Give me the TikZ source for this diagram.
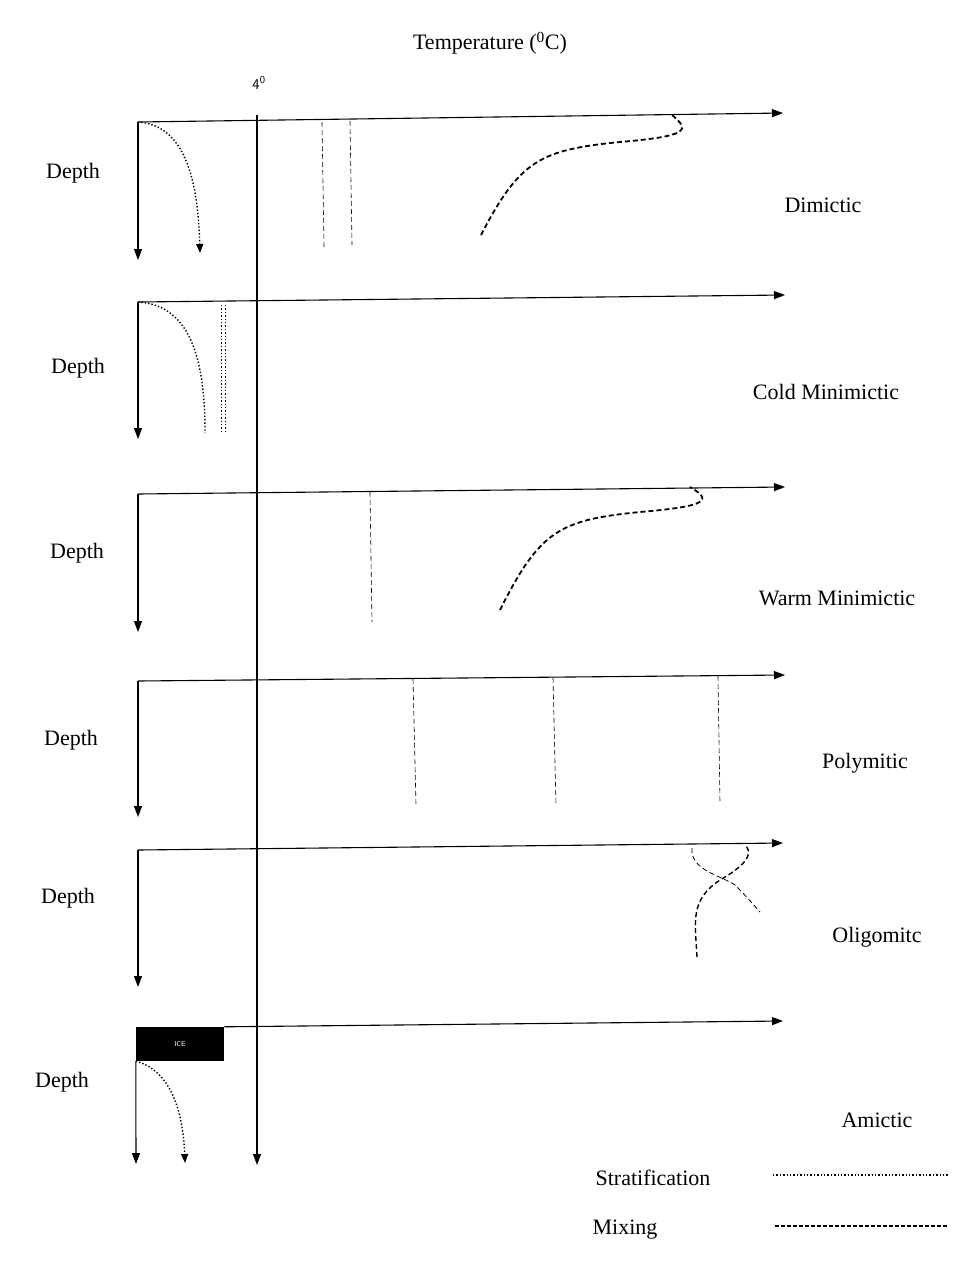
\documentclass[tikz,border=0pt]{standalone}
\usepackage{fontspec}
\setmainfont{Liberation Serif}
\usetikzlibrary{arrows.meta}
\begin{document}
\begin{tikzpicture}[x=1pt,y=-1pt,
  ax/.style={line width=1.1pt,-{Triangle[length=11pt,width=8pt]}},
  strat/.style={line width=1.4pt,dotted},
  mix/.style={line width=1.8pt,dash pattern=on 5pt off 3pt},
  thin/.style={line width=0.6pt,dash pattern=on 5pt off 3pt},
  lab/.style={font=\fontsize{22}{25}\selectfont},
  tip/.style={-{Triangle[length=9pt,width=7pt]}}]
\useasboundingbox (0,0) rectangle (968,1278);
\node[lab] (title) at (490,43) {Temperature (\textsuperscript{0}C)};
\node[font=\sffamily\fontsize{15}{17}\selectfont] (four) at (259,83) {4\textsuperscript{0}};
\coordinate (f1) at (257,115); \coordinate (f2) at (257,1165);
\draw[ax] (f1) -- (f2);
% panel 1
\coordinate (o1) at (138,122);
\coordinate (x1) at (783,113); \coordinate (d1) at (138,260);
\draw[ax] (o1) -- (x1); \draw[ax] (o1) -- (d1);
\draw[strat,tip] (o1) .. controls (185,125) and (198,180) .. (200,253);
\draw[thin] (322,122) -- (324,247); \draw[thin] (350,121) -- (352,245);
\draw[mix] (481,235) .. controls (520,160) and (540,150) .. (620,142) .. controls (690,136) and (690,130) .. (672,115);
\node[lab] (dep1) at (73,173) {Depth};
\node[lab] (n1) at (823,205) {Dimictic};
% panel 2
\coordinate (o2) at (138,302);
\coordinate (x2) at (785,295); \coordinate (d2) at (138,439);
\draw[ax] (o2) -- (x2); \draw[ax] (o2) -- (d2);
\draw[strat] (o2) .. controls (195,305) and (205,370) .. (205,433);
\draw[strat,line width=1pt] (221,305) -- (221,433); \draw[strat,line width=1pt] (225,305) -- (225,433);
\node[lab] (dep2) at (78,368) {Depth};
\node[lab] (n2) at (826,392) {Cold Minimictic};
% panel 3
\coordinate (o3) at (138,494);
\coordinate (x3) at (785,487); \coordinate (d3) at (138,632);
\draw[ax] (o3) -- (x3); \draw[ax] (o3) -- (d3);
\draw[thin] (370,492) -- (372,622);
\draw[mix] (500,610) .. controls (540,530) and (560,520) .. (640,512) .. controls (710,506) and (712,500) .. (690,487);
\node[lab] (dep3) at (77,553) {Depth};
\node[lab] (n3) at (837,598) {Warm Minimictic};
% panel 4
\coordinate (o4) at (138,681);
\coordinate (x4) at (785,675); \coordinate (d4) at (138,817);
\draw[ax] (o4) -- (x4); \draw[ax] (o4) -- (d4);
\draw[thin] (413,679) -- (416,805); \draw[thin] (553,678) -- (556,805); \draw[thin] (718,676) -- (720,803);
\node[lab] (dep4) at (71,740) {Depth};
\node[lab] (n4) at (865,763) {Polymitic};
% panel 5
\coordinate (o5) at (138,850);
\coordinate (x5) at (783,843); \coordinate (d5) at (138,987);
\draw[ax] (o5) -- (x5); \draw[ax] (o5) -- (d5);
\draw[mix,line width=1.4pt] (697,957) .. controls (695,920) and (690,900) .. (720,880) .. controls (755,860) and (750,850) .. (745,845);
\draw[thin,line width=0.8pt] (692,848) .. controls (690,870) and (720,875) .. (735,885) .. controls (750,900) and (758,910) .. (760,912);
\node[lab] (dep5) at (68,898) {Depth};
\node[lab] (n5) at (877,937) {Oligomitc};
% panel 6
\node[fill=black,minimum width=88pt,minimum height=34pt,inner sep=0pt,text=white,font=\sffamily\fontsize{7}{8}\selectfont] (ice) at (180,1044) {ICE};
\coordinate (x6) at (783,1021); \coordinate (d6) at (136,1164);
\draw[ax] (ice.north east) -- (x6); \draw[ax] (ice.south west) -- (d6);
\draw[strat,tip] (ice.south west) .. controls (170,1070) and (183,1110) .. (185,1163);
\node[lab] (dep6) at (62,1082) {Depth};
\node[lab] (n6) at (877,1120) {Amictic};
% legend
\node[lab] (ls) at (653,1178) {Stratification};
\node[lab] (lm) at (625,1230) {Mixing};
\coordinate (s1) at (773,1175); \coordinate (s2) at (948,1175);
\coordinate (m1) at (775,1226); \coordinate (m2) at (948,1226);
\draw[strat,line width=1.2pt] (s1) -- (s2);
\draw[mix,dash pattern=on 4pt off 2pt] (m1) -- (m2);
\end{tikzpicture}
\end{document}
